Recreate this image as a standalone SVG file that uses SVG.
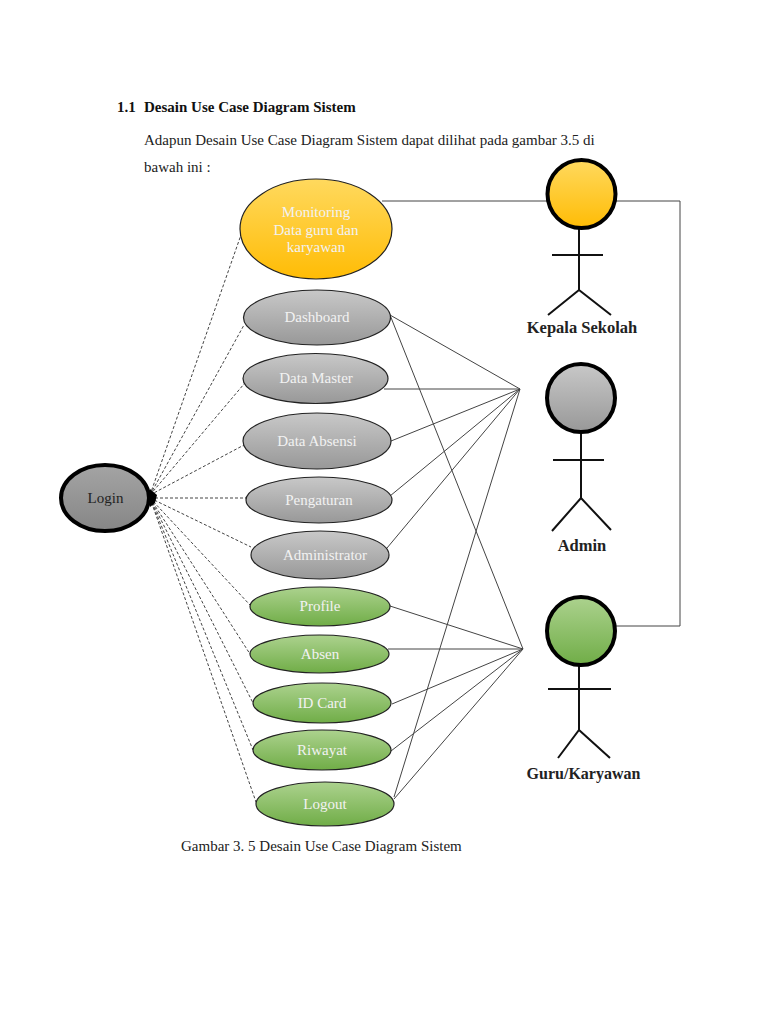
<svg xmlns="http://www.w3.org/2000/svg" width="768" height="1024" viewBox="0 0 768 1024">
<style>
text{font-family:"Liberation Serif","Times New Roman",serif}
.doc{font-size:15px;fill:#222}
.b{font-size:15px;font-weight:bold;fill:#111}
.u{font-size:15px;fill:#f2f2f2;text-anchor:middle}
.a{font-size:16.500px;font-weight:bold;fill:#222;text-anchor:middle}
.e{stroke:#222;stroke-width:1.2}
.y{fill:url(#gy)}.g{fill:url(#gg)}.v{fill:url(#gv)}
.h{stroke:#000;stroke-width:4}
.st{stroke:#111;stroke-width:2;fill:none}
.s{stroke:#444;stroke-width:1;fill:none}
.d{stroke:#444;stroke-width:1;stroke-dasharray:3 2;fill:none}
</style>
<defs>
<linearGradient id="gy" x1="0" y1="0" x2="0" y2="1"><stop offset="0" stop-color="#ffd95e"/><stop offset="1" stop-color="#ffbc05"/></linearGradient>
<linearGradient id="gg" x1="0" y1="0" x2="0" y2="1"><stop offset="0" stop-color="#acd28e"/><stop offset="1" stop-color="#70ad47"/></linearGradient>
<linearGradient id="gv" x1="0" y1="0" x2="0" y2="1"><stop offset="0" stop-color="#c8c8c8"/><stop offset="1" stop-color="#989898"/></linearGradient>
<linearGradient id="gl" x1="0" y1="0" x2="0" y2="1"><stop offset="0" stop-color="#a4a4a4"/><stop offset="1" stop-color="#868686"/></linearGradient>
</defs>
<g id="doc-text">
<text class="b" x="117" y="112">1.1</text>
<text class="b" x="144" y="112">Desain Use Case Diagram Sistem</text>
<text class="doc" x="144" y="145">Adapun Desain Use Case Diagram Sistem dapat dilihat pada gambar 3.5 di</text>
<text class="doc" x="144" y="172">bawah ini :</text>
<text class="doc" x="181" y="851">Gambar 3. 5 Desain Use Case Diagram Sistem</text>
</g>
<g id="connectors">
<path class="d" d="M150 495L242 232M150 495L244 325M150 495L244 384M150 495L244 445M150 498H246M150 498L251 547M150 498L250 605M150 498L250 654M150 498L253 703M150 498L253 750M150 498L256 802"/>
<path class="s" d="M382 201H548M616 201H680V626H616"/>
<path class="s" d="M390 315L520 389M384 389H520M391 441L520 389M390 496L520 389M387 548L520 389"/>
<path class="s" d="M390 315L523 649M390 606L523 649M388 649H523M392 704L523 649M391 751L523 649M394 799L523 649M394 797L520 389"/>
<path d="M150 489L157 495L155 503L150 507Z" fill="#000"/>
</g>
<g id="monitoring"><ellipse class="e y" cx="316" cy="229" rx="76" ry="50"/><text class="u" x="316" y="217">Monitoring</text><text class="u" x="316" y="235">Data guru dan</text><text class="u" x="316" y="252">karyawan</text></g>
<g id="dashboard"><ellipse class="e v" cx="317" cy="317.500" rx="73.500" ry="27.500"/><text class="u" x="317" y="322">Dashboard</text></g>
<g id="data-master"><ellipse class="e v" cx="315.500" cy="378.500" rx="72.500" ry="25"/><text class="u" x="316" y="383">Data Master</text></g>
<g id="data-absensi"><ellipse class="e v" cx="317" cy="441" rx="74" ry="28"/><text class="u" x="317" y="446">Data Absensi</text></g>
<g id="pengaturan"><ellipse class="e v" cx="319" cy="500" rx="73" ry="23"/><text class="u" x="319" y="505">Pengaturan</text></g>
<g id="administrator"><ellipse class="e v" cx="320" cy="555" rx="69" ry="24"/><text class="u" x="325" y="560">Administrator</text></g>
<g id="profile"><ellipse class="e g" cx="320" cy="606.500" rx="70" ry="19.500"/><text class="u" x="320" y="611">Profile</text></g>
<g id="absen"><ellipse class="e g" cx="319.500" cy="654" rx="69.500" ry="19"/><text class="u" x="320" y="659">Absen</text></g>
<g id="id-card"><ellipse class="e g" cx="322" cy="703" rx="69" ry="20"/><text class="u" x="322" y="708">ID Card</text></g>
<g id="riwayat"><ellipse class="e g" cx="322" cy="750" rx="69" ry="20"/><text class="u" x="322" y="755">Riwayat</text></g>
<g id="logout"><ellipse class="e g" cx="325" cy="804" rx="69" ry="22"/><text class="u" x="325" y="809">Logout</text></g>
<g id="login"><ellipse cx="105" cy="498" rx="44" ry="33" fill="url(#gl)" class="h"/><text x="105.500" y="503" font-size="15" fill="#222" text-anchor="middle">Login</text></g>
<g id="actor-kepala"><path class="st" d="M579 229V290M552 255H603M548 315L579 290L611 315"/><circle class="h y" cx="581.500" cy="194" r="34"/><text class="a" x="582" y="333">Kepala Sekolah</text></g>
<g id="actor-admin"><path class="st" d="M581 432V498M553 460H604M552 531L581 498L611 530"/><circle class="h v" cx="581" cy="398" r="34"/><text class="a" x="582" y="551">Admin</text></g>
<g id="actor-guru"><path class="st" d="M579 665V730M548 689H611M558 758L579 730L610 758"/><circle class="h g" cx="581" cy="631" r="34"/><text class="a" style="font-size:16px" x="583.500" y="779">Guru/Karyawan</text></g>
</svg>
